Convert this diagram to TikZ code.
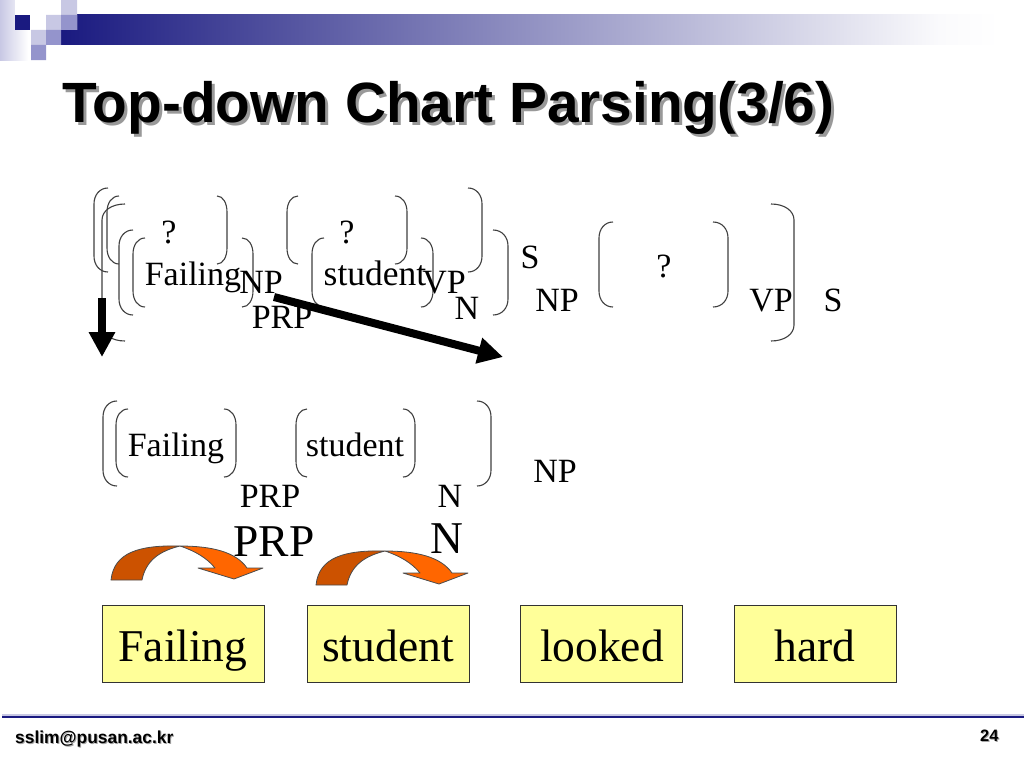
\documentclass[tikz,border=0pt]{standalone}
\usepackage{fontspec}
\setmainfont{Liberation Serif}
\newfontfamily\headfont{Liberation Sans}
\usetikzlibrary{arrows.meta}
\definecolor{navy}{HTML}{1A1A80}
\definecolor{barmid}{HTML}{ADADCA}
\definecolor{barend}{HTML}{FAFAFC}
\definecolor{lavmid}{HTML}{9494CC}
\definecolor{lavpale}{HTML}{C8C8E4}
\definecolor{boxyellow}{HTML}{FFFF99}
\definecolor{arrowlight}{HTML}{FF6600}
\definecolor{arrowdark}{HTML}{CC5200}
\tikzstyle{every node}=[inner sep=0pt,anchor=base]
\tikzstyle{small}=[font=\fontsize{34}{38}\selectfont]
\tikzstyle{large}=[font=\fontsize{45.5}{52}\selectfont]
\tikzstyle{word}=[large,draw=black!80,fill=boxyellow,line width=1pt,anchor=north west,minimum width=162pt,minimum height=76.5pt]
\tikzstyle{brk}=[draw=black!75,line width=1.1pt]
\tikzstyle{thick arrow}=[line width=8pt,-{Triangle[length=25pt,width=25pt]}]
\tikzstyle{ribbon}=[draw=black!70,line width=0.8pt,line join=round]
\begin{document}
\begin{tikzpicture}[x=1pt,y=-1pt]
	\useasboundingbox (0,0) rectangle (1024,768);
	\fill[white] (0,0) rectangle (1024,768);
	\shade[left color=lavpale,right color=white] (0,0) rectangle (28,60);
	\shade[left color=navy,middle color=barmid,right color=barend] (61,15) rectangle (939,45);
	\shade[left color=barend,right color=white] (939,15) rectangle (1000,45);
	\fill[white] (15,0) rectangle (61,15) (28,15) rectangle (61,30) (61,15) rectangle (77,30);
	\fill[navy] (15,15) rectangle (30,30);
	\fill[lavpale] (46,15) rectangle (61,30) (61,0) rectangle (77,15) (31,30) rectangle (46,45);
	\fill[lavmid] (61,15) rectangle (77,30) (46,30) rectangle (61,45) (31,45) rectangle (46,60);
	\node[anchor=base west,text=black!40,font=\headfont\bfseries\fontsize{56.8}{64}\selectfont] (titleshadow) at (65,125) {Top-down Chart Parsing(3/6)};
	\node[anchor=base west,font=\headfont\bfseries\fontsize{56.8}{64}\selectfont] (title) at (62,122) {Top-down Chart Parsing(3/6)};
	\foreach \ex/\bx/\ty/\by in {108/94/188/272,119/107/196/264,125/102/204/341,133/119/230/315,145/133/238/307,
		217/227/196/264,242/253/238/307,298/287/196/264,395/407/196/264,324/312/238/307,421/433/238/307,
		468/482/188/272,493/508/230/315,613/599/222/307,713/728/222/307,771/794/204/341,
		117/103/401/486,128/116/409/477,224/236/409/477,307/296/409/477,403/415/409/477,477/491/401/486}
		\draw[brk] (\ex,\ty) .. controls ({\bx+0.4*(\ex-\bx)},\ty) and (\bx,\ty+7) .. (\bx,\ty+16) -- (\bx,\by-16) .. controls (\bx,\by-7) and ({\bx+0.4*(\ex-\bx)},\by) .. (\ex,\by);
	\node[small] (qa) at (169,243) {?};
	\node[small] (qb) at (347,243) {?};
	\node[small] (qc) at (664,277) {?};
	\node[small] (faila) at (193,285) {Failing};
	\node[small,font=\fontsize{35.5}{38}\selectfont] (stua) at (375,285) {student};
	\node[small] (npa) at (261,293) {NP};
	\node[small] (vpa) at (444,293) {VP};
	\node[small] (na) at (467,319) {N};
	\node[small] (prpa) at (282,328) {PRP};
	\node[small] (sa) at (530,268) {S};
	\node[small] (npb) at (557,311) {NP};
	\node[small] (vpb) at (771,311) {VP};
	\node[small] (sb) at (833,311) {S};
	\node[small] (failb) at (176,456) {Failing};
	\node[small] (stub) at (355,456) {student};
	\node[small] (npc) at (555,482) {NP};
	\node[small] (prpb) at (270,507) {PRP};
	\node[small] (nb) at (450,507) {N};
	\node[large] (prpc) at (274,556) {PRP};
	\node[large] (nc) at (447,553) {N};
	\foreach \dx/\dy in {0/0,205/5}
	{
		\fill[arrowlight,ribbon] (180+\dx,546+\dy) .. controls (212+\dx,546+\dy) and (236+\dx,552+\dy) .. (247+\dx,568+\dy) -- (263+\dx,568+\dy) -- (234+\dx,579+\dy) -- (198+\dx,568+\dy) -- (215+\dx,568+\dy) .. controls (207+\dx,558+\dy) and (195+\dx,551+\dy) .. (180+\dx,546+\dy) -- cycle;
		\fill[arrowdark,ribbon] (111+\dx,580+\dy) .. controls (114+\dx,552+\dy) and (140+\dx,545+\dy) .. (180+\dx,546+\dy) .. controls (160+\dx,551+\dy) and (146+\dx,560+\dy) .. (142+\dx,580+\dy) -- cycle;
	}
	\node[word] (failing) at (102,605) {};
	\node[word] (student) at (307,605) {};
	\node[word] (looked) at (520,605) {};
	\node[word] (hard) at (734,605) {};
	\node[large] (failingtext) at (183,661) {Failing};
	\node[large] (studenttext) at (388,661) {student};
	\node[large] (lookedtext) at (602,661) {looked};
	\node[large] (hardtext) at (815,661) {hard};
	\coordinate (downa) at (102,298);
	\coordinate (downb) at (102,357);
	\coordinate (diaga) at (274,297);
	\coordinate (diagb) at (503,357);
	\draw[thick arrow] (downa) -- (downb);
	\draw[thick arrow] (diaga) -- (diagb);
	\fill[lavpale] (2,714) rectangle (1024,716);
	\fill[navy] (2,716) rectangle (1024,718);
	\node[anchor=base west,text=black!35,font=\headfont\bfseries\fontsize{17.4}{20}\selectfont] (mailshadow) at (16,744) {sslim@pusan.ac.kr};
	\node[anchor=base west,font=\headfont\bfseries\fontsize{17.4}{20}\selectfont] (mail) at (15,743) {sslim@pusan.ac.kr};
	\node[anchor=base west,text=black!35,font=\headfont\bfseries\fontsize{16.5}{20}\selectfont] (pageshadow) at (981,742) {24};
	\node[anchor=base west,font=\headfont\bfseries\fontsize{16.5}{20}\selectfont] (page) at (980,741) {24};
\end{tikzpicture}
\end{document}
